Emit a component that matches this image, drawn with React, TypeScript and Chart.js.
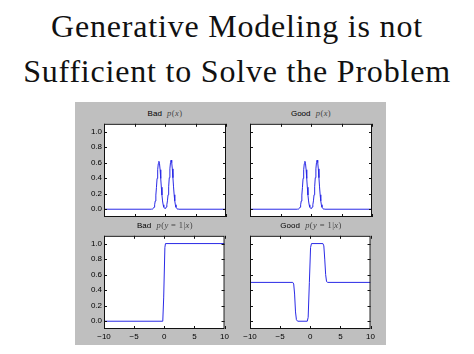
import { useEffect, useRef } from "react";
import { Chart, registerables } from "chart.js";
Chart.register(...registerables);

const TITLE_LINES = ["Generative Modeling is not", "Sufficient to Solve the Problem"];

const X_TICKS = [-10, -5, 0, 5, 10];
const Y_TICKS = [0.0, 0.2, 0.4, 0.6, 0.8, 1.0];
const X_LIMITS = [-10, 10];
const Y_LIMITS = [-0.1, 1.1];

// p(x): two bumps around x = -1 and x = +1
const PX_X = [
  -10, -2.3, -2.2, -2.1, -2.0, -1.9, -1.8, -1.7, -1.6, -1.5, -1.4, -1.3, -1.2, -1.1, -1.0,
  -0.9, -0.8, -0.7, -0.6, -0.5, -0.4, -0.3, -0.2, -0.1, 0.0,
  0.1, 0.2, 0.3, 0.4, 0.5, 0.6, 0.7, 0.8, 0.9, 1.0,
  1.1, 1.2, 1.3, 1.4, 1.5, 1.6, 1.7, 1.8, 1.9, 2.0, 2.1, 2.2, 2.3, 10,
];
const BAD_PX_Y = [
  0, 0, 0.001, 0.002, 0.005, 0.012, 0.027, 0.057, 0.106, 0.182, 0.282, 0.397, 0.508, 0.587, 0.617,
  0.587, 0.508, 0.397, 0.283, 0.183, 0.107, 0.057, 0.028, 0.014, 0.009,
  0.014, 0.028, 0.058, 0.108, 0.186, 0.289, 0.406, 0.52, 0.601, 0.632,
  0.601, 0.52, 0.406, 0.288, 0.186, 0.108, 0.058, 0.027, 0.012, 0.005, 0.002, 0.001, 0, 0,
];
const GOOD_PX_Y = [
  0, 0, 0.001, 0.002, 0.005, 0.012, 0.027, 0.057, 0.106, 0.182, 0.282, 0.397, 0.508, 0.587, 0.617,
  0.587, 0.508, 0.397, 0.283, 0.183, 0.107, 0.057, 0.028, 0.014, 0.009,
  0.014, 0.028, 0.058, 0.108, 0.186, 0.289, 0.406, 0.52, 0.601, 0.632,
  0.601, 0.52, 0.406, 0.288, 0.186, 0.108, 0.058, 0.027, 0.012, 0.005, 0.002, 0.001, 0, 0,
];

// p(y=1|x)
const BAD_COND_X = [-10, -0.25, -0.1, 0.1, 0.2, 10];
const BAD_COND_Y = [0, 0, 0.3, 0.95, 1.0, 1.0];
const GOOD_COND_X = [-10, -2.9, -2.75, -2.6, -2.45, -2.3, -2.1, -0.5, -0.35, -0.15, 0.05, 0.2, 2.1, 2.25, 2.4, 2.55, 2.7, 2.9, 10];
const GOOD_COND_Y = [0.5, 0.5, 0.48, 0.35, 0.12, 0.02, 0.0, 0.0, 0.05, 0.5, 0.95, 1.0, 1.0, 0.97, 0.8, 0.6, 0.51, 0.5, 0.5];

const LINE_COLOR = "#2a2ae6";
const FIG_BG = "#bfbfbf";

// layout (pixels)
const AX_W = 122;
const AX_H = 96;
const Y_AXIS_W = 30;
const X_AXIS_H = 16;
const PAD_T = 4;
const PAD_R = 6;

type PanelDef = {
  word: string;
  math: any;
  xs: number[];
  ys: number[];
  showX: boolean;
  showY: boolean;
  left: number;
  top: number;
};

const framePlugin = {
  id: "frameTicks",
  beforeDraw(chart: any) {
    const { ctx, chartArea } = chart;
    const { left, right, top, bottom } = chartArea;
    ctx.save();
    ctx.fillStyle = "#ffffff";
    ctx.fillRect(left, top, right - left, bottom - top);
    ctx.restore();
  },
  afterDraw(chart: any) {
    const { ctx, chartArea } = chart;
    const { left, right, top, bottom } = chartArea;
    const xs = chart.scales.x;
    const ys = chart.scales.y;
    ctx.save();
    ctx.strokeStyle = "#111";
    ctx.lineWidth = 1;
    ctx.strokeRect(left + 0.5, top + 0.5, right - left - 1, bottom - top - 1);
    const tl = 3;
    ctx.beginPath();
    for (const v of X_TICKS) {
      const p = Math.round(xs.getPixelForValue(v)) + 0.5;
      ctx.moveTo(p, bottom);
      ctx.lineTo(p, bottom - tl);
      ctx.moveTo(p, top);
      ctx.lineTo(p, top + tl);
    }
    for (const v of Y_TICKS) {
      const p = Math.round(ys.getPixelForValue(v)) + 0.5;
      ctx.moveTo(left, p);
      ctx.lineTo(left + tl, p);
      ctx.moveTo(right, p);
      ctx.lineTo(right - tl, p);
    }
    ctx.stroke();
    ctx.restore();
  },
};

function Panel({ def }: { def: PanelDef }) {
  const ref = useRef<HTMLCanvasElement | null>(null);
  useEffect(() => {
    if (!ref.current) return;
    const tickFont = { family: "'Liberation Sans', Arial, sans-serif", size: 8 };
    const chart = new Chart(ref.current, {
      type: "line",
      data: {
        datasets: [
          {
            data: def.xs.map((x, i) => ({ x, y: def.ys[i] })),
            borderColor: LINE_COLOR,
            borderWidth: 1,
            pointRadius: 0,
            tension: 0,
            fill: false,
          },
        ],
      },
      options: {
        animation: false,
        responsive: false,
        maintainAspectRatio: false,
        devicePixelRatio: 1,
        layout: { padding: { top: PAD_T, right: PAD_R, left: 0, bottom: 0 } },
        plugins: { legend: { display: false }, tooltip: { enabled: false }, title: { display: false } },
        scales: {
          x: {
            type: "linear",
            min: X_LIMITS[0],
            max: X_LIMITS[1],
            afterBuildTicks: (s: any) => {
              s.ticks = X_TICKS.map((v) => ({ value: v }));
            },
            afterFit: (s: any) => {
              s.height = X_AXIS_H;
            },
            grid: { display: false, drawTicks: false },
            border: { display: false },
            ticks: {
              autoSkip: false,
              maxRotation: 0,
              padding: 3,
              color: "#000",
              font: tickFont,
              callback: (v: any) => (def.showX ? (v < 0 ? "\u2212" + Math.abs(v) : String(v)) : ""),
            },
          },
          y: {
            type: "linear",
            min: Y_LIMITS[0],
            max: Y_LIMITS[1],
            afterBuildTicks: (s: any) => {
              s.ticks = Y_TICKS.map((v) => ({ value: v }));
            },
            afterFit: (s: any) => {
              s.width = Y_AXIS_W;
            },
            grid: { display: false, drawTicks: false },
            border: { display: false },
            ticks: {
              autoSkip: false,
              padding: 2,
              color: "#000",
              font: tickFont,
              callback: (v: any) => (def.showY ? Number(v).toFixed(1) : ""),
            },
          },
        },
      },
      plugins: [framePlugin],
    } as any);
    return () => chart.destroy();
  }, [def]);

  const cw = Y_AXIS_W + AX_W + PAD_R;
  const ch = PAD_T + AX_H + X_AXIS_H;
  return (
    <>
      <div
        style={{
          position: "absolute",
          left: def.left,
          top: def.top - 13,
          width: AX_W,
          height: 10,
          lineHeight: "10px",
          textAlign: "center",
          whiteSpace: "nowrap",
          color: "#000",
          fontFamily: "'Liberation Sans', Arial, sans-serif",
          fontSize: 8,
        }}
      >
        {def.word}{" "}
        <span
          style={{
            fontFamily: "'Liberation Serif', 'Times New Roman', serif",
            fontSize: 8.5,
            color: "#444",
            marginLeft: 3,
            letterSpacing: 0.4,
          }}
        >
          {def.math}
        </span>
      </div>
      <canvas
        ref={ref}
        width={cw}
        height={ch}
        style={{
          position: "absolute",
          left: def.left - Y_AXIS_W,
          top: def.top - PAD_T,
          width: cw,
          height: ch,
        }}
      />
    </>
  );
}

const PX_MATH = (
  <>
    <i>p</i>(<i>x</i>)
  </>
);
const COND_MATH = (
  <>
    <i>p</i>(<i>y</i> = 1|<i>x</i>)
  </>
);

const PANELS: PanelDef[] = [
  { word: "Bad", math: PX_MATH, xs: PX_X, ys: BAD_PX_Y, showX: false, showY: true, left: 104, top: 121 },
  { word: "Good", math: PX_MATH, xs: PX_X, ys: GOOD_PX_Y, showX: false, showY: false, left: 250, top: 121 },
  { word: "Bad", math: COND_MATH, xs: BAD_COND_X, ys: BAD_COND_Y, showX: true, showY: true, left: 104, top: 233 },
  { word: "Good", math: COND_MATH, xs: GOOD_COND_X, ys: GOOD_COND_Y, showX: true, showY: false, left: 250, top: 233 },
];

export default function App() {
  return (
    <div
      style={{
        position: "absolute",
        left: 0,
        top: 0,
        width: 474,
        height: 354,
        background: "#fff",
        overflow: "hidden",
      }}
    >
      {TITLE_LINES.map((t, i) => (
        <div
          key={i}
          style={{
            position: "absolute",
            left: 0,
            top: i === 0 ? 10 : 55,
            width: 474,
            textAlign: "center",
            fontFamily: "'Liberation Serif', 'Times New Roman', serif",
            fontSize: 32,
            lineHeight: "32px",
            letterSpacing: 0.8,
            color: "#111",
            whiteSpace: "nowrap",
          }}
        >
          {t}
        </div>
      ))}
      <div
        style={{
          position: "absolute",
          left: 75,
          top: 102,
          width: 311,
          height: 243,
          background: FIG_BG,
        }}
      />
      {PANELS.map((p, i) => (
        <Panel key={i} def={p} />
      ))}
    </div>
  );
}
